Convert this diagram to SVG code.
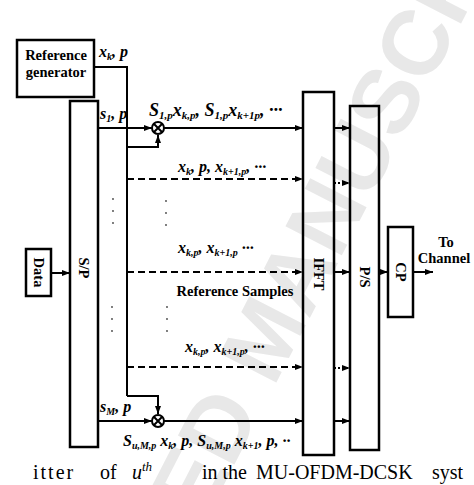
<svg xmlns="http://www.w3.org/2000/svg" width="474" height="485" viewBox="0 0 474 485">
<style>
.box{fill:none;stroke:#000;stroke-width:2.5}
.ln{fill:none;stroke:#000;stroke-width:2}
.dash{fill:none;stroke:#000;stroke-width:2.2;stroke-dasharray:7,4}
.dot{fill:none;stroke:#000;stroke-width:2;stroke-dasharray:2,2}
.lb{font-family:"Liberation Serif",serif;font-weight:bold;font-size:14.5px;fill:#000}
.m{font-family:"Liberation Serif",serif;font-weight:bold;font-style:italic;font-size:16px;fill:#000}
.big{font-size:18px}
.s{font-size:10px}
.wm{font-family:"Liberation Sans",sans-serif;font-weight:bold;font-size:92px;fill:#e8e8e8}
.cap{font-family:"Liberation Serif",serif;font-size:20px;fill:#000}
</style>
<defs>
<marker id="ah" markerWidth="8" markerHeight="6" refX="8" refY="3" orient="auto" markerUnits="userSpaceOnUse">
<path d="M0,0 L8,3 L0,6 Z" fill="#000"/>
</marker>
</defs>
<rect width="474" height="485" fill="#fff"/>
<text class="wm" transform="translate(30.6,860.9) rotate(-62.8)">ACCEPTED MANUSCRIPT</text>

<g id="connectors">
<path class="ln" d="M94,67 H127 V396"/>
<path class="ln" d="M127,396 H158 V414" marker-end="url(#ah)"/>
<path class="ln" d="M127,147 H158 V135" marker-end="url(#ah)"/>
<path class="ln" d="M51,273 H70" marker-end="url(#ah)"/>
<path class="ln" d="M98,128 H152" marker-end="url(#ah)"/>
<path class="ln" d="M164,128 H303" marker-end="url(#ah)"/>
<path class="dash" d="M127,179 H303" marker-end="url(#ah)"/>
<path class="dash" d="M127,272 H303" marker-end="url(#ah)"/>
<path class="dash" d="M127,367 H303" marker-end="url(#ah)"/>
<path class="ln" d="M98,421 H152" marker-end="url(#ah)"/>
<path class="ln" d="M164,421 H303" marker-end="url(#ah)"/>
<path class="ln" d="M334,128 H350" marker-end="url(#ah)"/>
<path class="dot" d="M334,183 H350" marker-end="url(#ah)"/>
<path class="ln" d="M334,272 H350" marker-end="url(#ah)"/>
<path class="dot" d="M334,368 H350" marker-end="url(#ah)"/>
<path class="ln" d="M334,421 H350" marker-end="url(#ah)"/>
<path class="ln" d="M379,272 H388" marker-end="url(#ah)"/>
<path class="ln" d="M413,272 H433" marker-end="url(#ah)"/>
</g>

<g id="refgen">
<rect class="box" x="17" y="40" width="77" height="57"/>
<text class="lb" x="56" y="60" text-anchor="middle">Reference</text>
<text class="lb" x="56" y="77" text-anchor="middle">generator</text>
</g>
<g id="sp">
<rect class="box" x="70" y="101" width="28" height="346"/>
<text class="lb" transform="translate(84,268) rotate(90)" text-anchor="middle" dy="5">S/P</text>
</g>
<g id="data">
<rect class="box" x="26" y="249" width="25" height="47"/>
<text class="lb" transform="translate(38.5,272.5) rotate(90)" text-anchor="middle" dy="5">Data</text>
</g>
<g id="ifft">
<rect class="box" x="303" y="92" width="31" height="363"/>
<text class="lb" transform="translate(318.5,274) rotate(90)" text-anchor="middle" dy="5">IFFT</text>
</g>
<g id="ps">
<rect class="box" x="350" y="106" width="29" height="344"/>
<text class="lb" transform="translate(364.5,277) rotate(90)" text-anchor="middle" dy="5">P/S</text>
</g>
<g id="cp">
<rect class="box" x="388" y="227" width="25" height="90"/>
<text class="lb" transform="translate(400.5,272) rotate(90)" text-anchor="middle" dy="5">CP</text>
</g>
<g id="mixer1">
<circle cx="158" cy="128" r="6" fill="#fff" stroke="#000" stroke-width="2"/>
<path class="ln" d="M153.8,123.8 L162.2,132.2 M162.2,123.8 L153.8,132.2" stroke-width="1.5"/>
</g>
<g id="mixerM">
<circle cx="158" cy="421" r="6" fill="#fff" stroke="#000" stroke-width="2"/>
<path class="ln" d="M153.8,416.8 L162.2,425.2 M162.2,416.8 L153.8,425.2" stroke-width="1.5"/>
</g>

<g id="output">
<text class="lb" x="446" y="247" text-anchor="middle">To</text>
<text class="lb" x="444" y="263" text-anchor="middle">Channel</text>
</g>

<g id="labels">
<text class="m" x="99" y="57">x<tspan class="s" baseline-shift="-3">k</tspan>, p</text>
<text class="m" x="100" y="119">s<tspan class="s" baseline-shift="-3">1</tspan>, p</text>
<text class="m" x="100" y="412">s<tspan class="s" baseline-shift="-3">M</tspan>, p</text>
<text class="m big" x="149" y="116">S<tspan font-size="11" baseline-shift="-3">1,p</tspan>x<tspan font-size="11" baseline-shift="-3">k,p</tspan>, S<tspan font-size="11" baseline-shift="-3">1,p</tspan>x<tspan font-size="11" baseline-shift="-3">k+1p</tspan>, ···</text>
<text class="m" x="178" y="172">x<tspan class="s" baseline-shift="-3">k</tspan>, p, x<tspan class="s" baseline-shift="-3">k+1,p</tspan>, ···</text>
<text class="m" x="178" y="253">x<tspan class="s" baseline-shift="-3">k,p</tspan>, x<tspan class="s" baseline-shift="-3">k+1,p</tspan> ···</text>
<text class="lb" x="235" y="296" text-anchor="middle">Reference Samples</text>
<text class="m" x="185" y="352">x<tspan class="s" baseline-shift="-3">k,p</tspan>, x<tspan class="s" baseline-shift="-3">k+1,p</tspan>, ···</text>
<text class="m" x="123" y="446">S<tspan class="s" baseline-shift="-3">u,M,p</tspan> x<tspan class="s" baseline-shift="-3">k</tspan>, p, S<tspan class="s" baseline-shift="-3">u,M,p</tspan> x<tspan class="s" baseline-shift="-3">k+1</tspan>, p, ··</text>
</g>

<g id="vdots" fill="#444">
<circle cx="113" cy="199" r="0.9"/><circle cx="113" cy="211" r="0.9"/><circle cx="113" cy="223" r="0.9"/>
<circle cx="166" cy="201" r="0.9"/><circle cx="166" cy="213" r="0.9"/><circle cx="166" cy="225" r="0.9"/>
<circle cx="112" cy="307" r="0.9"/><circle cx="112" cy="319" r="0.9"/><circle cx="112" cy="331" r="0.9"/>
<circle cx="167" cy="307" r="0.9"/><circle cx="167" cy="319" r="0.9"/><circle cx="167" cy="331" r="0.9"/>
</g>

<g id="caption" class="cap">
<text x="33" y="479" letter-spacing="2">itter</text>
<text x="100" y="479">of</text>
<text x="132" y="479" font-style="italic">u<tspan font-size="13" baseline-shift="8">th</tspan></text>
<text x="202" y="479">in the</text>
<text x="256" y="479">MU-OFDM-DCSK</text>
<text x="432" y="479">syst</text>
</g>
</svg>
